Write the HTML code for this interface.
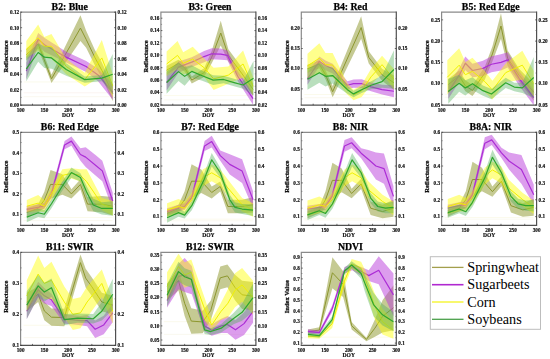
<!DOCTYPE html>
<html><head><meta charset="utf-8"><style>
html,body{margin:0;padding:0;background:#fff;width:550px;height:359px;overflow:hidden}
svg{display:block;filter:blur(0.35px)}
text{font-family:"Liberation Serif",serif;fill:#111}
.tk{font-size:5.2px;font-weight:bold;fill:#111;stroke:#111;stroke-width:0.18px}
.dy{font-size:5.6px;font-weight:bold;stroke:#111;stroke-width:0.18px}
.tt{font-size:9.8px;font-weight:bold;fill:#000;stroke:#000;stroke-width:0.25px}
.yl{font-size:6.5px;font-weight:bold;stroke:#111;stroke-width:0.28px}
.lg{font-size:14.2px;fill:#000}
</style></head><body>
<svg width="550" height="359" viewBox="0 0 550 359">
<g>
<clipPath id="c00"><rect x="20.6" y="12.2" width="95.0" height="93.0"/></clipPath>
<g clip-path="url(#c00)">
<line x1="23.6" x2="112.6" y1="81.95" y2="81.95" stroke="#f4f0c8" stroke-width="0.5" stroke-opacity="0.7"/>
<line x1="23.6" x2="112.6" y1="92.80" y2="92.80" stroke="#f4e0d8" stroke-width="0.5" stroke-opacity="0.7"/>
<line x1="23.6" x2="112.6" y1="96.68" y2="96.68" stroke="#f0ecd0" stroke-width="0.5" stroke-opacity="0.7"/>
<polygon points="26.30,49.01 38.17,39.33 51.48,74.59 80.45,15.30 86.15,30.80 94.70,49.40 101.82,62.58 112.75,85.83 112.75,101.33 101.82,78.08 94.70,64.90 86.15,47.85 80.45,40.88 51.48,83.11 38.17,48.63 26.30,60.64" fill="rgb(140,150,40)" fill-opacity="0.5"/>
<polyline points="26.30,54.82 38.17,43.98 51.48,78.85 80.45,28.09 86.15,39.33 94.70,57.15 101.82,70.33 112.75,93.58" fill="none" stroke="#8c962e" stroke-width="1.0" stroke-linejoin="round"/>
<polygon points="26.30,62.58 38.17,33.12 44.35,37.78 66.20,51.72 86.15,61.02 98.03,68.78 112.75,84.28 112.75,99.78 98.03,81.17 86.15,71.88 66.20,62.58 44.35,51.72 38.17,45.52 26.30,79.62" fill="rgb(185,60,220)" fill-opacity="0.5"/>
<polyline points="26.30,71.10 38.17,39.33 44.35,44.75 66.20,57.15 86.15,66.45 98.03,74.97 112.75,92.03" fill="none" stroke="#ac2ed6" stroke-width="1.2" stroke-linejoin="round"/>
<polygon points="26.30,40.88 38.17,24.60 44.35,37.00 51.48,33.90 66.20,58.70 84.72,72.65 101.82,40.10 112.75,74.20 112.75,97.45 101.82,75.75 84.72,86.60 66.20,74.20 51.48,58.70 44.35,55.60 38.17,50.95 26.30,57.93" fill="rgb(255,255,0)" fill-opacity="0.45"/>
<polyline points="26.30,49.40 38.17,37.78 44.35,46.30 51.48,46.30 66.20,66.45 84.72,79.62 101.82,57.93 112.75,85.83" fill="none" stroke="#f0f000" stroke-width="1.0" stroke-linejoin="round"/>
<polygon points="26.30,56.38 38.17,43.20 44.35,46.30 51.48,47.08 66.20,63.35 84.72,76.52 101.82,74.97 112.75,54.05 112.75,94.35 101.82,81.17 84.72,82.72 66.20,75.75 51.48,68.78 44.35,68.00 38.17,61.80 26.30,81.17" fill="rgb(80,175,90)" fill-opacity="0.4"/>
<polyline points="26.30,68.78 38.17,52.50 44.35,57.15 51.48,57.93 66.20,69.55 84.72,79.62 101.82,78.08 112.75,74.20" fill="none" stroke="#2ea62e" stroke-width="1.2" stroke-linejoin="round"/>
</g>
<path d="M20.6,105.2 V12.2 H115.6" fill="none" stroke="#8a8a8a" stroke-width="1.2"/>
<path d="M20.0,105.2 H115.6 V11.6" fill="none" stroke="#505050" stroke-width="1.2"/>
<line x1="32.48" x2="32.48" y1="105.2" y2="103.7" stroke="#333" stroke-width="0.7"/>
<line x1="44.35" x2="44.35" y1="105.2" y2="103.7" stroke="#333" stroke-width="0.7"/>
<line x1="56.23" x2="56.23" y1="105.2" y2="103.7" stroke="#333" stroke-width="0.7"/>
<line x1="68.10" x2="68.10" y1="105.2" y2="103.7" stroke="#333" stroke-width="0.7"/>
<line x1="79.97" x2="79.97" y1="105.2" y2="103.7" stroke="#333" stroke-width="0.7"/>
<line x1="91.85" x2="91.85" y1="105.2" y2="103.7" stroke="#333" stroke-width="0.7"/>
<line x1="103.72" x2="103.72" y1="105.2" y2="103.7" stroke="#333" stroke-width="0.7"/>
<text x="20.60" y="111.80" class="tk" text-anchor="middle">100</text>
<text x="44.35" y="111.80" class="tk" text-anchor="middle">150</text>
<text x="68.10" y="111.80" class="tk" text-anchor="middle">200</text>
<text x="91.85" y="111.80" class="tk" text-anchor="middle">250</text>
<text x="115.60" y="111.80" class="tk" text-anchor="middle">300</text>
<text x="68.10" y="117.20" class="dy" text-anchor="middle">DOY</text>
<line x1="20.6" x2="22.1" y1="105.20" y2="105.20" stroke="#333" stroke-width="0.7"/>
<line x1="115.6" x2="114.1" y1="105.20" y2="105.20" stroke="#333" stroke-width="0.7"/>
<text x="19.10" y="107.00" class="tk" text-anchor="end">0.00</text>
<text x="117.60" y="107.00" class="tk">0.00</text>
<line x1="20.6" x2="22.1" y1="89.70" y2="89.70" stroke="#333" stroke-width="0.7"/>
<line x1="115.6" x2="114.1" y1="89.70" y2="89.70" stroke="#333" stroke-width="0.7"/>
<text x="19.10" y="91.50" class="tk" text-anchor="end">0.02</text>
<text x="117.60" y="91.50" class="tk">0.02</text>
<line x1="20.6" x2="22.1" y1="74.20" y2="74.20" stroke="#333" stroke-width="0.7"/>
<line x1="115.6" x2="114.1" y1="74.20" y2="74.20" stroke="#333" stroke-width="0.7"/>
<text x="19.10" y="76.00" class="tk" text-anchor="end">0.04</text>
<text x="117.60" y="76.00" class="tk">0.04</text>
<line x1="20.6" x2="22.1" y1="58.70" y2="58.70" stroke="#333" stroke-width="0.7"/>
<line x1="115.6" x2="114.1" y1="58.70" y2="58.70" stroke="#333" stroke-width="0.7"/>
<text x="19.10" y="60.50" class="tk" text-anchor="end">0.06</text>
<text x="117.60" y="60.50" class="tk">0.06</text>
<line x1="20.6" x2="22.1" y1="43.20" y2="43.20" stroke="#333" stroke-width="0.7"/>
<line x1="115.6" x2="114.1" y1="43.20" y2="43.20" stroke="#333" stroke-width="0.7"/>
<text x="19.10" y="45.00" class="tk" text-anchor="end">0.08</text>
<text x="117.60" y="45.00" class="tk">0.08</text>
<line x1="20.6" x2="22.1" y1="27.70" y2="27.70" stroke="#333" stroke-width="0.7"/>
<line x1="115.6" x2="114.1" y1="27.70" y2="27.70" stroke="#333" stroke-width="0.7"/>
<text x="19.10" y="29.50" class="tk" text-anchor="end">0.10</text>
<text x="117.60" y="29.50" class="tk">0.10</text>
<line x1="20.6" x2="22.1" y1="12.20" y2="12.20" stroke="#333" stroke-width="0.7"/>
<line x1="115.6" x2="114.1" y1="12.20" y2="12.20" stroke="#333" stroke-width="0.7"/>
<text x="19.10" y="14.00" class="tk" text-anchor="end">0.12</text>
<text x="117.60" y="14.00" class="tk">0.12</text>
<line x1="20.6" x2="21.8" y1="97.45" y2="97.45" stroke="#555" stroke-width="0.5"/>
<line x1="115.6" x2="114.39999999999999" y1="97.45" y2="97.45" stroke="#555" stroke-width="0.5"/>
<line x1="20.6" x2="21.8" y1="81.95" y2="81.95" stroke="#555" stroke-width="0.5"/>
<line x1="115.6" x2="114.39999999999999" y1="81.95" y2="81.95" stroke="#555" stroke-width="0.5"/>
<line x1="20.6" x2="21.8" y1="66.45" y2="66.45" stroke="#555" stroke-width="0.5"/>
<line x1="115.6" x2="114.39999999999999" y1="66.45" y2="66.45" stroke="#555" stroke-width="0.5"/>
<line x1="20.6" x2="21.8" y1="50.95" y2="50.95" stroke="#555" stroke-width="0.5"/>
<line x1="115.6" x2="114.39999999999999" y1="50.95" y2="50.95" stroke="#555" stroke-width="0.5"/>
<line x1="20.6" x2="21.8" y1="35.45" y2="35.45" stroke="#555" stroke-width="0.5"/>
<line x1="115.6" x2="114.39999999999999" y1="35.45" y2="35.45" stroke="#555" stroke-width="0.5"/>
<line x1="20.6" x2="21.8" y1="19.95" y2="19.95" stroke="#555" stroke-width="0.5"/>
<line x1="115.6" x2="114.39999999999999" y1="19.95" y2="19.95" stroke="#555" stroke-width="0.5"/>
<text x="69.70" y="9.90" class="tt" text-anchor="middle">B2: Blue</text>
<text transform="translate(8.00,56.50) rotate(-90)" class="yl" text-anchor="middle">Reflectance</text>
</g>
<g>
<clipPath id="c10"><rect x="160.9" y="12.2" width="95.0" height="93.0"/></clipPath>
<g clip-path="url(#c10)">
<line x1="163.9" x2="252.9" y1="95.55" y2="95.55" stroke="#f4f0c8" stroke-width="0.5" stroke-opacity="0.7"/>
<line x1="163.9" x2="252.9" y1="99.88" y2="99.88" stroke="#f0ecd0" stroke-width="0.5" stroke-opacity="0.7"/>
<polygon points="166.60,65.85 178.47,59.66 184.65,63.99 191.78,76.61 204.12,68.32 211.73,51.00 220.75,20.68 228.35,49.14 242.12,67.70 253.05,83.17 253.05,95.55 242.12,80.08 228.35,61.52 220.75,45.43 211.73,63.37 204.12,76.98 191.78,83.54 184.65,71.42 178.47,67.08 166.60,74.51" fill="rgb(140,150,40)" fill-opacity="0.5"/>
<polyline points="166.60,70.18 178.47,63.37 184.65,67.70 191.78,80.08 204.12,72.65 211.73,57.18 220.75,33.05 228.35,55.33 242.12,73.89 253.05,89.36" fill="none" stroke="#8c962e" stroke-width="1.0" stroke-linejoin="round"/>
<polygon points="166.60,74.51 178.47,61.52 191.78,57.18 204.12,51.00 211.73,48.21 220.75,48.52 227.40,50.38 237.85,71.42 253.05,92.45 253.05,104.83 237.85,81.32 227.40,60.28 220.75,59.66 211.73,59.35 204.12,62.13 191.78,67.08 178.47,72.65 166.60,90.60" fill="rgb(185,60,220)" fill-opacity="0.5"/>
<polyline points="166.60,82.55 178.47,67.08 191.78,62.13 204.12,56.57 211.73,53.78 220.75,54.09 227.40,55.33 237.85,76.37 253.05,98.64" fill="none" stroke="#ac2ed6" stroke-width="1.2" stroke-linejoin="round"/>
<polygon points="166.60,51.62 177.53,41.10 183.22,52.23 192.73,46.67 204.12,58.42 213.62,67.70 228.35,66.47 243.07,50.38 253.05,76.98 253.05,95.55 243.07,77.60 228.35,83.79 213.62,89.98 204.12,76.98 192.73,71.42 183.22,74.51 177.53,69.56 166.60,76.37" fill="rgb(255,255,0)" fill-opacity="0.45"/>
<polyline points="166.60,63.99 177.53,55.33 183.22,63.37 192.73,59.04 204.12,67.70 213.62,78.84 228.35,75.13 243.07,63.99 253.05,86.27" fill="none" stroke="#f0f000" stroke-width="1.0" stroke-linejoin="round"/>
<polygon points="166.60,71.42 178.47,62.32 184.65,67.08 191.78,65.23 202.23,70.80 213.15,75.13 223.60,75.75 234.05,78.84 243.07,81.32 253.53,60.90 253.53,95.55 243.07,88.74 234.05,86.27 223.60,83.17 213.15,85.03 202.23,80.70 191.78,77.60 184.65,85.65 178.47,80.88 166.60,93.69" fill="rgb(80,175,90)" fill-opacity="0.4"/>
<polyline points="166.60,82.55 178.47,71.60 184.65,76.37 191.78,71.42 202.23,75.75 213.15,80.08 223.60,79.46 234.05,82.55 243.07,85.03 253.53,78.22" fill="none" stroke="#2ea62e" stroke-width="1.2" stroke-linejoin="round"/>
</g>
<path d="M160.9,105.2 V12.2 H255.9" fill="none" stroke="#8a8a8a" stroke-width="1.2"/>
<path d="M160.3,105.2 H255.9 V11.6" fill="none" stroke="#505050" stroke-width="1.2"/>
<line x1="172.78" x2="172.78" y1="105.2" y2="103.7" stroke="#333" stroke-width="0.7"/>
<line x1="184.65" x2="184.65" y1="105.2" y2="103.7" stroke="#333" stroke-width="0.7"/>
<line x1="196.53" x2="196.53" y1="105.2" y2="103.7" stroke="#333" stroke-width="0.7"/>
<line x1="208.40" x2="208.40" y1="105.2" y2="103.7" stroke="#333" stroke-width="0.7"/>
<line x1="220.28" x2="220.28" y1="105.2" y2="103.7" stroke="#333" stroke-width="0.7"/>
<line x1="232.15" x2="232.15" y1="105.2" y2="103.7" stroke="#333" stroke-width="0.7"/>
<line x1="244.03" x2="244.03" y1="105.2" y2="103.7" stroke="#333" stroke-width="0.7"/>
<text x="160.90" y="111.80" class="tk" text-anchor="middle">100</text>
<text x="184.65" y="111.80" class="tk" text-anchor="middle">150</text>
<text x="208.40" y="111.80" class="tk" text-anchor="middle">200</text>
<text x="232.15" y="111.80" class="tk" text-anchor="middle">250</text>
<text x="255.90" y="111.80" class="tk" text-anchor="middle">300</text>
<text x="208.40" y="117.20" class="dy" text-anchor="middle">DOY</text>
<line x1="160.9" x2="162.4" y1="104.83" y2="104.83" stroke="#333" stroke-width="0.7"/>
<line x1="255.9" x2="254.4" y1="104.83" y2="104.83" stroke="#333" stroke-width="0.7"/>
<text x="159.40" y="106.63" class="tk" text-anchor="end">0.02</text>
<text x="257.90" y="106.63" class="tk">0.02</text>
<line x1="160.9" x2="162.4" y1="92.45" y2="92.45" stroke="#333" stroke-width="0.7"/>
<line x1="255.9" x2="254.4" y1="92.45" y2="92.45" stroke="#333" stroke-width="0.7"/>
<text x="159.40" y="94.25" class="tk" text-anchor="end">0.04</text>
<text x="257.90" y="94.25" class="tk">0.04</text>
<line x1="160.9" x2="162.4" y1="80.08" y2="80.08" stroke="#333" stroke-width="0.7"/>
<line x1="255.9" x2="254.4" y1="80.08" y2="80.08" stroke="#333" stroke-width="0.7"/>
<text x="159.40" y="81.88" class="tk" text-anchor="end">0.06</text>
<text x="257.90" y="81.88" class="tk">0.06</text>
<line x1="160.9" x2="162.4" y1="67.70" y2="67.70" stroke="#333" stroke-width="0.7"/>
<line x1="255.9" x2="254.4" y1="67.70" y2="67.70" stroke="#333" stroke-width="0.7"/>
<text x="159.40" y="69.50" class="tk" text-anchor="end">0.08</text>
<text x="257.90" y="69.50" class="tk">0.08</text>
<line x1="160.9" x2="162.4" y1="55.33" y2="55.33" stroke="#333" stroke-width="0.7"/>
<line x1="255.9" x2="254.4" y1="55.33" y2="55.33" stroke="#333" stroke-width="0.7"/>
<text x="159.40" y="57.13" class="tk" text-anchor="end">0.10</text>
<text x="257.90" y="57.13" class="tk">0.10</text>
<line x1="160.9" x2="162.4" y1="42.95" y2="42.95" stroke="#333" stroke-width="0.7"/>
<line x1="255.9" x2="254.4" y1="42.95" y2="42.95" stroke="#333" stroke-width="0.7"/>
<text x="159.40" y="44.75" class="tk" text-anchor="end">0.12</text>
<text x="257.90" y="44.75" class="tk">0.12</text>
<line x1="160.9" x2="162.4" y1="30.58" y2="30.58" stroke="#333" stroke-width="0.7"/>
<line x1="255.9" x2="254.4" y1="30.58" y2="30.58" stroke="#333" stroke-width="0.7"/>
<text x="159.40" y="32.38" class="tk" text-anchor="end">0.14</text>
<text x="257.90" y="32.38" class="tk">0.14</text>
<line x1="160.9" x2="162.4" y1="18.20" y2="18.20" stroke="#333" stroke-width="0.7"/>
<line x1="255.9" x2="254.4" y1="18.20" y2="18.20" stroke="#333" stroke-width="0.7"/>
<text x="159.40" y="20.00" class="tk" text-anchor="end">0.16</text>
<text x="257.90" y="20.00" class="tk">0.16</text>
<line x1="160.9" x2="162.1" y1="98.64" y2="98.64" stroke="#555" stroke-width="0.5"/>
<line x1="255.9" x2="254.70000000000002" y1="98.64" y2="98.64" stroke="#555" stroke-width="0.5"/>
<line x1="160.9" x2="162.1" y1="86.27" y2="86.27" stroke="#555" stroke-width="0.5"/>
<line x1="255.9" x2="254.70000000000002" y1="86.27" y2="86.27" stroke="#555" stroke-width="0.5"/>
<line x1="160.9" x2="162.1" y1="73.89" y2="73.89" stroke="#555" stroke-width="0.5"/>
<line x1="255.9" x2="254.70000000000002" y1="73.89" y2="73.89" stroke="#555" stroke-width="0.5"/>
<line x1="160.9" x2="162.1" y1="61.52" y2="61.52" stroke="#555" stroke-width="0.5"/>
<line x1="255.9" x2="254.70000000000002" y1="61.52" y2="61.52" stroke="#555" stroke-width="0.5"/>
<line x1="160.9" x2="162.1" y1="49.14" y2="49.14" stroke="#555" stroke-width="0.5"/>
<line x1="255.9" x2="254.70000000000002" y1="49.14" y2="49.14" stroke="#555" stroke-width="0.5"/>
<line x1="160.9" x2="162.1" y1="36.76" y2="36.76" stroke="#555" stroke-width="0.5"/>
<line x1="255.9" x2="254.70000000000002" y1="36.76" y2="36.76" stroke="#555" stroke-width="0.5"/>
<line x1="160.9" x2="162.1" y1="24.39" y2="24.39" stroke="#555" stroke-width="0.5"/>
<line x1="255.9" x2="254.70000000000002" y1="24.39" y2="24.39" stroke="#555" stroke-width="0.5"/>
<text x="210.00" y="9.90" class="tt" text-anchor="middle">B3: Green</text>
<text transform="translate(148.30,56.50) rotate(-90)" class="yl" text-anchor="middle">Reflectance</text>
</g>
<g>
<clipPath id="c20"><rect x="301.3" y="12.2" width="95.0" height="93.0"/></clipPath>
<g clip-path="url(#c20)">
<line x1="304.3" x2="393.3" y1="94.51" y2="94.51" stroke="#f4f0c8" stroke-width="0.5" stroke-opacity="0.7"/>
<line x1="304.3" x2="393.3" y1="97.74" y2="97.74" stroke="#f0ecd0" stroke-width="0.5" stroke-opacity="0.7"/>
<polygon points="307.48,64.65 319.35,60.21 325.53,70.30 332.65,86.04 361.15,16.23 368.75,51.34 382.05,68.69 393.93,75.54 393.93,90.07 382.05,80.79 368.75,63.44 361.15,38.83 332.65,97.33 325.53,79.18 319.35,68.28 307.48,72.72" fill="rgb(140,150,40)" fill-opacity="0.5"/>
<polyline points="307.48,68.69 319.35,64.25 325.53,74.74 332.65,91.68 361.15,27.53 368.75,57.39 382.05,74.74 393.93,82.81" fill="none" stroke="#8c962e" stroke-width="1.0" stroke-linejoin="round"/>
<polygon points="307.48,72.72 319.35,56.58 325.53,60.62 332.65,63.84 347.38,81.19 353.55,79.58 361.62,79.18 371.12,82.40 382.05,84.82 393.93,85.23 393.93,97.33 382.05,94.51 371.12,91.28 361.62,88.05 353.55,87.65 347.38,89.26 332.65,73.53 325.53,70.30 319.35,66.27 307.48,84.82" fill="rgb(185,60,220)" fill-opacity="0.5"/>
<polyline points="307.48,78.77 319.35,61.42 325.53,65.46 332.65,68.69 347.38,85.23 353.55,83.61 361.62,83.61 371.12,86.84 382.05,89.67 393.93,91.28" fill="none" stroke="#ac2ed6" stroke-width="1.2" stroke-linejoin="round"/>
<polygon points="307.48,53.76 319.35,43.27 325.53,52.95 332.65,52.95 347.38,83.21 353.55,89.67 361.62,84.82 371.12,68.69 382.05,55.77 393.93,69.09 393.93,89.26 382.05,73.53 371.12,84.82 361.62,96.93 353.55,100.16 347.38,94.51 332.65,77.16 325.53,76.35 319.35,73.12 307.48,77.97" fill="rgb(255,255,0)" fill-opacity="0.45"/>
<polyline points="307.48,65.86 319.35,58.20 325.53,64.65 332.65,65.05 347.38,88.86 353.55,94.91 361.62,90.88 371.12,76.76 382.05,64.65 393.93,79.18" fill="none" stroke="#f0f000" stroke-width="1.0" stroke-linejoin="round"/>
<polygon points="307.48,68.69 319.35,62.63 325.53,66.27 332.65,67.48 347.38,85.63 353.55,90.68 361.62,86.44 371.12,81.19 382.05,75.54 393.93,50.13 393.93,88.86 382.05,87.65 371.12,89.26 361.62,92.89 353.55,97.13 347.38,93.70 332.65,83.61 325.53,86.44 319.35,82.81 307.48,89.67" fill="rgb(80,175,90)" fill-opacity="0.4"/>
<polyline points="307.48,79.18 319.35,72.72 325.53,76.35 332.65,75.54 347.38,89.67 353.55,93.90 361.62,89.67 371.12,85.23 382.05,81.60 393.93,69.49" fill="none" stroke="#2ea62e" stroke-width="1.2" stroke-linejoin="round"/>
</g>
<path d="M301.3,105.2 V12.2 H396.3" fill="none" stroke="#8a8a8a" stroke-width="1.2"/>
<path d="M300.7,105.2 H396.3 V11.6" fill="none" stroke="#505050" stroke-width="1.2"/>
<line x1="313.18" x2="313.18" y1="105.2" y2="103.7" stroke="#333" stroke-width="0.7"/>
<line x1="325.05" x2="325.05" y1="105.2" y2="103.7" stroke="#333" stroke-width="0.7"/>
<line x1="336.93" x2="336.93" y1="105.2" y2="103.7" stroke="#333" stroke-width="0.7"/>
<line x1="348.80" x2="348.80" y1="105.2" y2="103.7" stroke="#333" stroke-width="0.7"/>
<line x1="360.68" x2="360.68" y1="105.2" y2="103.7" stroke="#333" stroke-width="0.7"/>
<line x1="372.55" x2="372.55" y1="105.2" y2="103.7" stroke="#333" stroke-width="0.7"/>
<line x1="384.43" x2="384.43" y1="105.2" y2="103.7" stroke="#333" stroke-width="0.7"/>
<text x="301.30" y="111.80" class="tk" text-anchor="middle">100</text>
<text x="325.05" y="111.80" class="tk" text-anchor="middle">150</text>
<text x="348.80" y="111.80" class="tk" text-anchor="middle">200</text>
<text x="372.55" y="111.80" class="tk" text-anchor="middle">250</text>
<text x="396.30" y="111.80" class="tk" text-anchor="middle">300</text>
<text x="348.80" y="117.20" class="dy" text-anchor="middle">DOY</text>
<line x1="301.3" x2="302.8" y1="88.86" y2="88.86" stroke="#333" stroke-width="0.7"/>
<line x1="396.3" x2="394.8" y1="88.86" y2="88.86" stroke="#333" stroke-width="0.7"/>
<text x="299.80" y="90.66" class="tk" text-anchor="end">0.05</text>
<text x="398.30" y="90.66" class="tk">0.05</text>
<line x1="301.3" x2="302.8" y1="68.69" y2="68.69" stroke="#333" stroke-width="0.7"/>
<line x1="396.3" x2="394.8" y1="68.69" y2="68.69" stroke="#333" stroke-width="0.7"/>
<text x="299.80" y="70.49" class="tk" text-anchor="end">0.10</text>
<text x="398.30" y="70.49" class="tk">0.10</text>
<line x1="301.3" x2="302.8" y1="48.51" y2="48.51" stroke="#333" stroke-width="0.7"/>
<line x1="396.3" x2="394.8" y1="48.51" y2="48.51" stroke="#333" stroke-width="0.7"/>
<text x="299.80" y="50.31" class="tk" text-anchor="end">0.15</text>
<text x="398.30" y="50.31" class="tk">0.15</text>
<line x1="301.3" x2="302.8" y1="28.34" y2="28.34" stroke="#333" stroke-width="0.7"/>
<line x1="396.3" x2="394.8" y1="28.34" y2="28.34" stroke="#333" stroke-width="0.7"/>
<text x="299.80" y="30.14" class="tk" text-anchor="end">0.20</text>
<text x="398.30" y="30.14" class="tk">0.20</text>
<line x1="301.3" x2="302.5" y1="78.77" y2="78.77" stroke="#555" stroke-width="0.5"/>
<line x1="396.3" x2="395.1" y1="78.77" y2="78.77" stroke="#555" stroke-width="0.5"/>
<line x1="301.3" x2="302.5" y1="58.60" y2="58.60" stroke="#555" stroke-width="0.5"/>
<line x1="396.3" x2="395.1" y1="58.60" y2="58.60" stroke="#555" stroke-width="0.5"/>
<line x1="301.3" x2="302.5" y1="38.43" y2="38.43" stroke="#555" stroke-width="0.5"/>
<line x1="396.3" x2="395.1" y1="38.43" y2="38.43" stroke="#555" stroke-width="0.5"/>
<line x1="301.3" x2="302.5" y1="18.25" y2="18.25" stroke="#555" stroke-width="0.5"/>
<line x1="396.3" x2="395.1" y1="18.25" y2="18.25" stroke="#555" stroke-width="0.5"/>
<line x1="301.3" x2="302.5" y1="98.95" y2="98.95" stroke="#555" stroke-width="0.5"/>
<line x1="396.3" x2="395.1" y1="98.95" y2="98.95" stroke="#555" stroke-width="0.5"/>
<text x="350.40" y="9.90" class="tt" text-anchor="middle">B4: Red</text>
<text transform="translate(288.70,56.50) rotate(-90)" class="yl" text-anchor="middle">Reflectance</text>
</g>
<g>
<clipPath id="c30"><rect x="441.6" y="12.2" width="95.0" height="93.0"/></clipPath>
<g clip-path="url(#c30)">
<line x1="444.6" x2="533.6" y1="94.31" y2="94.31" stroke="#f4f0c8" stroke-width="0.5" stroke-opacity="0.7"/>
<line x1="444.6" x2="533.6" y1="97.29" y2="97.29" stroke="#f0ecd0" stroke-width="0.5" stroke-opacity="0.7"/>
<polygon points="448.25,78.99 459.18,70.48 465.35,80.27 472.48,84.95 484.83,66.66 492.43,46.23 500.98,13.26 507.62,50.49 519.02,68.78 533.75,83.67 533.75,100.69 519.02,81.55 507.62,65.80 500.98,38.79 492.43,61.55 484.83,79.42 472.48,96.01 465.35,91.33 459.18,81.55 448.25,90.05" fill="rgb(140,150,40)" fill-opacity="0.5"/>
<polyline points="448.25,84.52 459.18,76.02 465.35,85.80 472.48,90.48 484.83,73.04 492.43,53.89 500.98,26.03 507.62,58.15 519.02,75.16 533.75,92.18" fill="none" stroke="#8c962e" stroke-width="1.0" stroke-linejoin="round"/>
<polygon points="448.25,85.37 459.18,68.36 465.35,56.45 472.48,63.68 482.93,60.70 491.48,56.19 500.98,54.32 507.62,52.19 519.02,71.04 533.75,90.05 533.75,105.37 519.02,85.50 507.62,67.51 500.98,70.48 491.48,72.36 482.93,76.02 472.48,77.29 465.35,70.06 459.18,81.97 448.25,98.99" fill="rgb(185,60,220)" fill-opacity="0.5"/>
<polyline points="448.25,92.18 459.18,75.16 465.35,63.25 472.48,70.48 482.93,68.36 491.48,64.27 500.98,62.40 507.62,59.85 519.02,78.27 533.75,97.71" fill="none" stroke="#ac2ed6" stroke-width="1.2" stroke-linejoin="round"/>
<polygon points="447.30,60.27 459.18,48.15 465.35,61.98 472.48,57.72 484.83,70.91 492.43,80.69 505.73,63.25 522.35,50.70 533.75,70.91 533.75,96.44 522.35,79.63 505.73,81.97 492.43,99.41 484.83,92.18 472.48,84.95 465.35,87.50 459.18,82.18 447.30,94.31" fill="rgb(255,255,0)" fill-opacity="0.45"/>
<polyline points="447.30,77.29 459.18,65.17 465.35,74.74 472.48,71.34 484.83,81.55 492.43,90.05 505.73,72.61 522.35,65.17 533.75,83.67" fill="none" stroke="#f0f000" stroke-width="1.0" stroke-linejoin="round"/>
<polygon points="448.25,79.12 459.18,74.70 465.35,80.27 472.48,77.29 482.93,85.54 491.48,88.95 505.73,77.72 514.27,82.82 522.35,82.82 533.75,57.04 533.75,97.88 522.35,93.03 514.27,91.33 505.73,87.93 491.48,99.16 482.93,95.76 472.48,90.05 465.35,95.59 459.18,91.71 448.25,103.80" fill="rgb(80,175,90)" fill-opacity="0.4"/>
<polyline points="448.25,91.46 459.18,83.21 465.35,87.93 472.48,83.67 482.93,90.65 491.48,94.05 505.73,82.82 514.27,87.08 522.35,87.93 533.75,77.46" fill="none" stroke="#2ea62e" stroke-width="1.2" stroke-linejoin="round"/>
</g>
<path d="M441.6,105.2 V12.2 H536.6" fill="none" stroke="#8a8a8a" stroke-width="1.2"/>
<path d="M441.0,105.2 H536.6 V11.6" fill="none" stroke="#505050" stroke-width="1.2"/>
<line x1="453.48" x2="453.48" y1="105.2" y2="103.7" stroke="#333" stroke-width="0.7"/>
<line x1="465.35" x2="465.35" y1="105.2" y2="103.7" stroke="#333" stroke-width="0.7"/>
<line x1="477.23" x2="477.23" y1="105.2" y2="103.7" stroke="#333" stroke-width="0.7"/>
<line x1="489.10" x2="489.10" y1="105.2" y2="103.7" stroke="#333" stroke-width="0.7"/>
<line x1="500.98" x2="500.98" y1="105.2" y2="103.7" stroke="#333" stroke-width="0.7"/>
<line x1="512.85" x2="512.85" y1="105.2" y2="103.7" stroke="#333" stroke-width="0.7"/>
<line x1="524.73" x2="524.73" y1="105.2" y2="103.7" stroke="#333" stroke-width="0.7"/>
<text x="441.60" y="111.80" class="tk" text-anchor="middle">100</text>
<text x="465.35" y="111.80" class="tk" text-anchor="middle">150</text>
<text x="489.10" y="111.80" class="tk" text-anchor="middle">200</text>
<text x="512.85" y="111.80" class="tk" text-anchor="middle">250</text>
<text x="536.60" y="111.80" class="tk" text-anchor="middle">300</text>
<text x="489.10" y="117.20" class="dy" text-anchor="middle">DOY</text>
<line x1="441.6" x2="443.1" y1="104.94" y2="104.94" stroke="#333" stroke-width="0.7"/>
<line x1="536.6" x2="535.1" y1="104.94" y2="104.94" stroke="#333" stroke-width="0.7"/>
<text x="440.10" y="106.74" class="tk" text-anchor="end">0.05</text>
<text x="538.60" y="106.74" class="tk">0.05</text>
<line x1="441.6" x2="443.1" y1="83.67" y2="83.67" stroke="#333" stroke-width="0.7"/>
<line x1="536.6" x2="535.1" y1="83.67" y2="83.67" stroke="#333" stroke-width="0.7"/>
<text x="440.10" y="85.47" class="tk" text-anchor="end">0.10</text>
<text x="538.60" y="85.47" class="tk">0.10</text>
<line x1="441.6" x2="443.1" y1="62.40" y2="62.40" stroke="#333" stroke-width="0.7"/>
<line x1="536.6" x2="535.1" y1="62.40" y2="62.40" stroke="#333" stroke-width="0.7"/>
<text x="440.10" y="64.20" class="tk" text-anchor="end">0.15</text>
<text x="538.60" y="64.20" class="tk">0.15</text>
<line x1="441.6" x2="443.1" y1="41.13" y2="41.13" stroke="#333" stroke-width="0.7"/>
<line x1="536.6" x2="535.1" y1="41.13" y2="41.13" stroke="#333" stroke-width="0.7"/>
<text x="440.10" y="42.93" class="tk" text-anchor="end">0.20</text>
<text x="538.60" y="42.93" class="tk">0.20</text>
<line x1="441.6" x2="443.1" y1="19.86" y2="19.86" stroke="#333" stroke-width="0.7"/>
<line x1="536.6" x2="535.1" y1="19.86" y2="19.86" stroke="#333" stroke-width="0.7"/>
<text x="440.10" y="21.66" class="tk" text-anchor="end">0.25</text>
<text x="538.60" y="21.66" class="tk">0.25</text>
<line x1="441.6" x2="442.8" y1="94.31" y2="94.31" stroke="#555" stroke-width="0.5"/>
<line x1="536.6" x2="535.4" y1="94.31" y2="94.31" stroke="#555" stroke-width="0.5"/>
<line x1="441.6" x2="442.8" y1="73.04" y2="73.04" stroke="#555" stroke-width="0.5"/>
<line x1="536.6" x2="535.4" y1="73.04" y2="73.04" stroke="#555" stroke-width="0.5"/>
<line x1="441.6" x2="442.8" y1="51.77" y2="51.77" stroke="#555" stroke-width="0.5"/>
<line x1="536.6" x2="535.4" y1="51.77" y2="51.77" stroke="#555" stroke-width="0.5"/>
<line x1="441.6" x2="442.8" y1="30.49" y2="30.49" stroke="#555" stroke-width="0.5"/>
<line x1="536.6" x2="535.4" y1="30.49" y2="30.49" stroke="#555" stroke-width="0.5"/>
<text x="490.70" y="9.90" class="tt" text-anchor="middle">B5: Red Edge</text>
<text transform="translate(429.00,56.50) rotate(-90)" class="yl" text-anchor="middle">Reflectance</text>
</g>
<g>
<clipPath id="c01"><rect x="20.6" y="132.3" width="95.0" height="93.0"/></clipPath>
<g clip-path="url(#c01)">
<line x1="23.6" x2="112.6" y1="217.50" y2="217.50" stroke="#f4f0c8" stroke-width="0.5" stroke-opacity="0.7"/>
<line x1="23.6" x2="112.6" y1="220.58" y2="220.58" stroke="#f0ecd0" stroke-width="0.5" stroke-opacity="0.7"/>
<polygon points="26.78,208.26 38.17,204.15 44.35,191.84 50.53,170.07 62.40,174.18 71.43,189.17 80.45,179.31 87.57,196.97 101.82,195.94 112.75,196.97 112.75,215.45 101.82,212.37 87.57,211.34 80.45,189.58 71.43,198.61 62.40,194.71 50.53,198.82 44.35,208.26 38.17,212.37 26.78,216.47" fill="rgb(140,150,40)" fill-opacity="0.5"/>
<polyline points="26.78,212.37 38.17,208.26 44.35,200.05 50.53,184.45 62.40,184.45 71.43,193.89 80.45,184.45 87.57,204.15 101.82,204.15 112.75,206.21" fill="none" stroke="#8c962e" stroke-width="1.0" stroke-linejoin="round"/>
<polygon points="26.78,206.21 38.17,204.15 44.35,202.92 51.48,189.78 64.59,140.92 71.43,136.61 80.45,148.31 85.68,147.29 96.12,155.50 102.30,160.63 112.75,192.86 112.75,209.29 102.30,181.16 96.12,176.03 85.68,167.00 80.45,160.63 71.43,145.64 64.59,149.13 51.48,198.00 44.35,209.08 38.17,210.31 26.78,212.37" fill="rgb(185,60,220)" fill-opacity="0.5"/>
<polyline points="26.78,209.29 38.17,207.23 44.35,206.00 51.48,193.89 64.59,145.03 71.43,141.13 80.45,154.47 85.68,157.14 96.12,165.76 102.30,170.90 112.75,201.07" fill="none" stroke="#ac2ed6" stroke-width="1.2" stroke-linejoin="round"/>
<polygon points="26.78,200.05 38.17,194.92 44.35,200.05 51.48,187.73 62.40,169.25 71.43,168.23 80.45,169.25 86.62,169.25 101.82,198.00 112.75,201.07 112.75,215.45 101.82,210.31 86.62,193.89 80.45,181.57 71.43,178.49 62.40,181.57 51.48,200.05 44.35,212.37 38.17,211.34 26.78,212.37" fill="rgb(255,255,0)" fill-opacity="0.45"/>
<polyline points="26.78,206.21 38.17,203.13 44.35,206.21 51.48,193.89 62.40,175.41 71.43,173.36 80.45,175.41 86.62,181.57 101.82,204.15 112.75,208.26" fill="none" stroke="#f0f000" stroke-width="1.0" stroke-linejoin="round"/>
<polygon points="26.78,211.96 38.17,208.67 44.35,210.11 51.48,199.23 61.93,182.19 71.43,167.41 80.45,173.36 86.62,185.88 93.28,198.82 101.82,202.31 112.75,201.28 112.75,215.65 101.82,214.62 93.28,211.13 86.62,198.20 80.45,181.57 71.43,177.67 61.93,191.22 51.48,208.26 44.35,218.32 38.17,216.88 26.78,222.22" fill="rgb(80,175,90)" fill-opacity="0.4"/>
<polyline points="26.78,217.09 38.17,212.78 44.35,214.21 51.48,203.74 61.93,186.70 71.43,172.54 80.45,177.47 86.62,192.04 93.28,204.98 101.82,208.47 112.75,208.47" fill="none" stroke="#2ea62e" stroke-width="1.2" stroke-linejoin="round"/>
</g>
<path d="M20.6,225.3 V132.3 H115.6" fill="none" stroke="#8a8a8a" stroke-width="1.2"/>
<path d="M20.0,225.3 H115.6 V131.70000000000002" fill="none" stroke="#505050" stroke-width="1.2"/>
<line x1="32.48" x2="32.48" y1="225.3" y2="223.8" stroke="#333" stroke-width="0.7"/>
<line x1="44.35" x2="44.35" y1="225.3" y2="223.8" stroke="#333" stroke-width="0.7"/>
<line x1="56.23" x2="56.23" y1="225.3" y2="223.8" stroke="#333" stroke-width="0.7"/>
<line x1="68.10" x2="68.10" y1="225.3" y2="223.8" stroke="#333" stroke-width="0.7"/>
<line x1="79.97" x2="79.97" y1="225.3" y2="223.8" stroke="#333" stroke-width="0.7"/>
<line x1="91.85" x2="91.85" y1="225.3" y2="223.8" stroke="#333" stroke-width="0.7"/>
<line x1="103.72" x2="103.72" y1="225.3" y2="223.8" stroke="#333" stroke-width="0.7"/>
<text x="20.60" y="231.90" class="tk" text-anchor="middle">100</text>
<text x="44.35" y="231.90" class="tk" text-anchor="middle">150</text>
<text x="68.10" y="231.90" class="tk" text-anchor="middle">200</text>
<text x="91.85" y="231.90" class="tk" text-anchor="middle">250</text>
<text x="115.60" y="231.90" class="tk" text-anchor="middle">300</text>
<text x="68.10" y="237.30" class="dy" text-anchor="middle">DOY</text>
<line x1="20.6" x2="22.1" y1="214.42" y2="214.42" stroke="#333" stroke-width="0.7"/>
<line x1="115.6" x2="114.1" y1="214.42" y2="214.42" stroke="#333" stroke-width="0.7"/>
<text x="19.10" y="216.22" class="tk" text-anchor="end">0.1</text>
<text x="117.60" y="216.22" class="tk">0.1</text>
<line x1="20.6" x2="22.1" y1="193.89" y2="193.89" stroke="#333" stroke-width="0.7"/>
<line x1="115.6" x2="114.1" y1="193.89" y2="193.89" stroke="#333" stroke-width="0.7"/>
<text x="19.10" y="195.69" class="tk" text-anchor="end">0.2</text>
<text x="117.60" y="195.69" class="tk">0.2</text>
<line x1="20.6" x2="22.1" y1="173.36" y2="173.36" stroke="#333" stroke-width="0.7"/>
<line x1="115.6" x2="114.1" y1="173.36" y2="173.36" stroke="#333" stroke-width="0.7"/>
<text x="19.10" y="175.16" class="tk" text-anchor="end">0.3</text>
<text x="117.60" y="175.16" class="tk">0.3</text>
<line x1="20.6" x2="22.1" y1="152.83" y2="152.83" stroke="#333" stroke-width="0.7"/>
<line x1="115.6" x2="114.1" y1="152.83" y2="152.83" stroke="#333" stroke-width="0.7"/>
<text x="19.10" y="154.63" class="tk" text-anchor="end">0.4</text>
<text x="117.60" y="154.63" class="tk">0.4</text>
<line x1="20.6" x2="22.1" y1="132.30" y2="132.30" stroke="#333" stroke-width="0.7"/>
<line x1="115.6" x2="114.1" y1="132.30" y2="132.30" stroke="#333" stroke-width="0.7"/>
<text x="19.10" y="134.10" class="tk" text-anchor="end">0.5</text>
<text x="117.60" y="134.10" class="tk">0.5</text>
<line x1="20.6" x2="21.8" y1="204.15" y2="204.15" stroke="#555" stroke-width="0.5"/>
<line x1="115.6" x2="114.39999999999999" y1="204.15" y2="204.15" stroke="#555" stroke-width="0.5"/>
<line x1="20.6" x2="21.8" y1="183.62" y2="183.62" stroke="#555" stroke-width="0.5"/>
<line x1="115.6" x2="114.39999999999999" y1="183.62" y2="183.62" stroke="#555" stroke-width="0.5"/>
<line x1="20.6" x2="21.8" y1="163.09" y2="163.09" stroke="#555" stroke-width="0.5"/>
<line x1="115.6" x2="114.39999999999999" y1="163.09" y2="163.09" stroke="#555" stroke-width="0.5"/>
<line x1="20.6" x2="21.8" y1="142.56" y2="142.56" stroke="#555" stroke-width="0.5"/>
<line x1="115.6" x2="114.39999999999999" y1="142.56" y2="142.56" stroke="#555" stroke-width="0.5"/>
<text x="69.70" y="130.00" class="tt" text-anchor="middle">B6: Red Edge</text>
<text transform="translate(8.00,176.60) rotate(-90)" class="yl" text-anchor="middle">Reflectance</text>
</g>
<g>
<clipPath id="c11"><rect x="160.9" y="132.3" width="95.0" height="93.0"/></clipPath>
<g clip-path="url(#c11)">
<line x1="163.9" x2="252.9" y1="219.16" y2="219.16" stroke="#f4f0c8" stroke-width="0.5" stroke-opacity="0.7"/>
<line x1="163.9" x2="252.9" y1="220.85" y2="220.85" stroke="#f0ecd0" stroke-width="0.5" stroke-opacity="0.7"/>
<polygon points="167.08,209.88 178.47,204.82 184.65,191.33 191.59,164.35 201.28,169.41 211.73,186.61 220.28,181.38 227.88,199.76 242.12,199.76 253.05,197.23 253.05,212.41 242.12,213.26 227.88,213.26 220.28,191.50 211.73,198.42 201.28,193.02 191.59,198.08 184.65,208.20 178.47,211.57 167.08,216.63" fill="rgb(140,150,40)" fill-opacity="0.5"/>
<polyline points="167.08,213.26 178.47,208.20 184.65,199.76 191.59,181.21 201.28,181.21 211.73,192.51 220.28,186.44 227.88,206.51 242.12,206.51 253.05,204.82" fill="none" stroke="#8c962e" stroke-width="1.0" stroke-linejoin="round"/>
<polygon points="167.08,208.20 178.47,204.82 184.65,203.14 191.78,194.37 204.60,140.90 211.73,135.67 220.28,150.52 229.78,154.23 242.12,159.29 253.05,191.33 253.05,208.20 242.12,182.90 229.78,174.47 220.28,160.64 211.73,147.48 204.60,151.02 191.78,201.11 184.65,209.88 178.47,211.57 167.08,214.94" fill="rgb(185,60,220)" fill-opacity="0.5"/>
<polyline points="167.08,211.57 178.47,208.20 184.65,206.51 191.78,197.74 204.60,145.96 211.73,141.58 220.28,155.58 229.78,164.35 242.12,171.09 253.05,199.76" fill="none" stroke="#ac2ed6" stroke-width="1.2" stroke-linejoin="round"/>
<polygon points="167.08,203.14 178.47,198.92 184.65,201.45 191.78,193.02 202.70,169.41 211.73,164.35 220.28,169.41 227.88,179.53 242.12,198.08 253.05,203.14 253.05,216.63 242.12,211.57 227.88,196.39 220.28,186.27 211.73,181.21 202.70,186.27 191.78,206.51 184.65,214.94 178.47,214.10 167.08,216.63" fill="rgb(255,255,0)" fill-opacity="0.45"/>
<polyline points="167.08,209.88 178.47,206.51 184.65,208.20 191.78,199.76 202.70,177.84 211.73,172.78 220.28,177.84 227.88,187.96 242.12,204.82 253.05,209.88" fill="none" stroke="#f0f000" stroke-width="1.0" stroke-linejoin="round"/>
<polygon points="167.08,212.75 178.47,208.37 184.65,211.74 191.78,201.11 204.12,173.62 211.73,153.05 220.28,167.72 229.78,194.70 235.00,202.29 242.12,203.98 253.05,204.15 253.05,215.96 242.12,214.10 235.00,212.41 229.78,204.82 220.28,177.84 211.73,166.54 204.12,185.43 191.78,210.22 184.65,218.49 178.47,216.80 167.08,222.87" fill="rgb(80,175,90)" fill-opacity="0.4"/>
<polyline points="167.08,217.81 178.47,212.58 184.65,215.11 191.78,205.67 204.12,179.53 211.73,159.79 220.28,172.78 229.78,199.76 235.00,207.35 242.12,209.04 253.05,210.05" fill="none" stroke="#2ea62e" stroke-width="1.2" stroke-linejoin="round"/>
</g>
<path d="M160.9,225.3 V132.3 H255.9" fill="none" stroke="#8a8a8a" stroke-width="1.2"/>
<path d="M160.3,225.3 H255.9 V131.70000000000002" fill="none" stroke="#505050" stroke-width="1.2"/>
<line x1="172.78" x2="172.78" y1="225.3" y2="223.8" stroke="#333" stroke-width="0.7"/>
<line x1="184.65" x2="184.65" y1="225.3" y2="223.8" stroke="#333" stroke-width="0.7"/>
<line x1="196.53" x2="196.53" y1="225.3" y2="223.8" stroke="#333" stroke-width="0.7"/>
<line x1="208.40" x2="208.40" y1="225.3" y2="223.8" stroke="#333" stroke-width="0.7"/>
<line x1="220.28" x2="220.28" y1="225.3" y2="223.8" stroke="#333" stroke-width="0.7"/>
<line x1="232.15" x2="232.15" y1="225.3" y2="223.8" stroke="#333" stroke-width="0.7"/>
<line x1="244.03" x2="244.03" y1="225.3" y2="223.8" stroke="#333" stroke-width="0.7"/>
<text x="160.90" y="231.90" class="tk" text-anchor="middle">100</text>
<text x="184.65" y="231.90" class="tk" text-anchor="middle">150</text>
<text x="208.40" y="231.90" class="tk" text-anchor="middle">200</text>
<text x="232.15" y="231.90" class="tk" text-anchor="middle">250</text>
<text x="255.90" y="231.90" class="tk" text-anchor="middle">300</text>
<text x="208.40" y="237.30" class="dy" text-anchor="middle">DOY</text>
<line x1="160.9" x2="162.4" y1="216.63" y2="216.63" stroke="#333" stroke-width="0.7"/>
<line x1="255.9" x2="254.4" y1="216.63" y2="216.63" stroke="#333" stroke-width="0.7"/>
<text x="159.40" y="218.43" class="tk" text-anchor="end">0.1</text>
<text x="257.90" y="218.43" class="tk">0.1</text>
<line x1="160.9" x2="162.4" y1="199.76" y2="199.76" stroke="#333" stroke-width="0.7"/>
<line x1="255.9" x2="254.4" y1="199.76" y2="199.76" stroke="#333" stroke-width="0.7"/>
<text x="159.40" y="201.56" class="tk" text-anchor="end">0.2</text>
<text x="257.90" y="201.56" class="tk">0.2</text>
<line x1="160.9" x2="162.4" y1="182.90" y2="182.90" stroke="#333" stroke-width="0.7"/>
<line x1="255.9" x2="254.4" y1="182.90" y2="182.90" stroke="#333" stroke-width="0.7"/>
<text x="159.40" y="184.70" class="tk" text-anchor="end">0.3</text>
<text x="257.90" y="184.70" class="tk">0.3</text>
<line x1="160.9" x2="162.4" y1="166.03" y2="166.03" stroke="#333" stroke-width="0.7"/>
<line x1="255.9" x2="254.4" y1="166.03" y2="166.03" stroke="#333" stroke-width="0.7"/>
<text x="159.40" y="167.83" class="tk" text-anchor="end">0.4</text>
<text x="257.90" y="167.83" class="tk">0.4</text>
<line x1="160.9" x2="162.4" y1="149.17" y2="149.17" stroke="#333" stroke-width="0.7"/>
<line x1="255.9" x2="254.4" y1="149.17" y2="149.17" stroke="#333" stroke-width="0.7"/>
<text x="159.40" y="150.97" class="tk" text-anchor="end">0.5</text>
<text x="257.90" y="150.97" class="tk">0.5</text>
<line x1="160.9" x2="162.4" y1="132.30" y2="132.30" stroke="#333" stroke-width="0.7"/>
<line x1="255.9" x2="254.4" y1="132.30" y2="132.30" stroke="#333" stroke-width="0.7"/>
<text x="159.40" y="134.10" class="tk" text-anchor="end">0.6</text>
<text x="257.90" y="134.10" class="tk">0.6</text>
<line x1="160.9" x2="162.1" y1="208.20" y2="208.20" stroke="#555" stroke-width="0.5"/>
<line x1="255.9" x2="254.70000000000002" y1="208.20" y2="208.20" stroke="#555" stroke-width="0.5"/>
<line x1="160.9" x2="162.1" y1="191.33" y2="191.33" stroke="#555" stroke-width="0.5"/>
<line x1="255.9" x2="254.70000000000002" y1="191.33" y2="191.33" stroke="#555" stroke-width="0.5"/>
<line x1="160.9" x2="162.1" y1="174.47" y2="174.47" stroke="#555" stroke-width="0.5"/>
<line x1="255.9" x2="254.70000000000002" y1="174.47" y2="174.47" stroke="#555" stroke-width="0.5"/>
<line x1="160.9" x2="162.1" y1="157.60" y2="157.60" stroke="#555" stroke-width="0.5"/>
<line x1="255.9" x2="254.70000000000002" y1="157.60" y2="157.60" stroke="#555" stroke-width="0.5"/>
<line x1="160.9" x2="162.1" y1="140.73" y2="140.73" stroke="#555" stroke-width="0.5"/>
<line x1="255.9" x2="254.70000000000002" y1="140.73" y2="140.73" stroke="#555" stroke-width="0.5"/>
<text x="210.00" y="130.00" class="tt" text-anchor="middle">B7: Red Edge</text>
<text transform="translate(148.30,176.60) rotate(-90)" class="yl" text-anchor="middle">Reflectance</text>
</g>
<g>
<clipPath id="c21"><rect x="301.3" y="132.3" width="95.0" height="93.0"/></clipPath>
<g clip-path="url(#c21)">
<line x1="304.3" x2="393.3" y1="218.32" y2="218.32" stroke="#f4f0c8" stroke-width="0.5" stroke-opacity="0.7"/>
<line x1="304.3" x2="393.3" y1="220.00" y2="220.00" stroke="#f0ecd0" stroke-width="0.5" stroke-opacity="0.7"/>
<polygon points="307.48,211.57 319.35,206.51 325.53,191.33 332.41,162.66 341.68,168.56 351.65,188.80 361.15,178.85 370.65,201.45 382.52,204.82 393.45,199.76 393.45,216.63 382.52,218.32 370.65,214.94 361.15,188.97 351.65,198.25 341.68,192.17 332.41,198.08 325.53,208.20 319.35,213.26 307.48,218.32" fill="rgb(140,150,40)" fill-opacity="0.5"/>
<polyline points="307.48,214.94 319.35,209.88 325.53,199.76 332.41,180.37 341.68,180.37 351.65,193.52 361.15,183.91 370.65,208.20 382.52,211.57 393.45,208.20" fill="none" stroke="#8c962e" stroke-width="1.0" stroke-linejoin="round"/>
<polygon points="307.48,205.67 319.35,203.98 325.53,203.14 332.18,192.68 344.53,140.06 351.65,137.19 361.15,148.15 368.27,150.01 375.88,152.54 383.95,153.38 393.45,186.27 393.45,206.51 383.95,183.74 375.88,179.53 368.27,168.56 361.15,158.27 351.65,148.32 344.53,151.86 332.18,199.43 325.53,209.88 319.35,210.73 307.48,212.41" fill="rgb(185,60,220)" fill-opacity="0.5"/>
<polyline points="307.48,209.04 319.35,207.35 325.53,206.51 332.18,196.05 344.53,145.96 351.65,142.76 361.15,153.21 368.27,159.29 375.88,166.03 383.95,168.56 393.45,196.39" fill="none" stroke="#ac2ed6" stroke-width="1.2" stroke-linejoin="round"/>
<polygon points="307.48,200.61 319.35,196.39 325.53,199.76 332.18,193.02 344.53,169.41 352.12,164.35 361.15,169.41 368.27,181.21 382.52,194.70 393.45,201.45 393.45,214.94 382.52,208.20 368.27,198.08 361.15,186.27 352.12,181.21 344.53,186.27 332.18,206.51 325.53,213.26 319.35,213.26 307.48,215.79" fill="rgb(255,255,0)" fill-opacity="0.45"/>
<polyline points="307.48,208.20 319.35,204.82 325.53,206.51 332.18,199.76 344.53,177.84 352.12,172.78 361.15,177.84 368.27,189.64 382.52,201.45 393.45,208.20" fill="none" stroke="#f0f000" stroke-width="1.0" stroke-linejoin="round"/>
<polygon points="307.48,209.88 319.35,206.51 325.53,209.21 332.41,199.26 344.53,171.94 352.12,153.05 361.15,167.72 370.65,193.02 377.78,201.45 385.38,203.14 393.45,201.45 393.45,213.26 385.38,213.26 377.78,211.57 370.65,203.14 361.15,177.84 352.12,166.54 344.53,183.74 332.41,208.70 325.53,217.64 319.35,214.94 307.48,220.00" fill="rgb(80,175,90)" fill-opacity="0.4"/>
<polyline points="307.48,214.94 319.35,210.73 325.53,213.43 332.41,203.98 344.53,177.84 352.12,159.79 361.15,172.78 370.65,198.08 377.78,206.51 385.38,208.20 393.45,207.35" fill="none" stroke="#2ea62e" stroke-width="1.2" stroke-linejoin="round"/>
</g>
<path d="M301.3,225.3 V132.3 H396.3" fill="none" stroke="#8a8a8a" stroke-width="1.2"/>
<path d="M300.7,225.3 H396.3 V131.70000000000002" fill="none" stroke="#505050" stroke-width="1.2"/>
<line x1="313.18" x2="313.18" y1="225.3" y2="223.8" stroke="#333" stroke-width="0.7"/>
<line x1="325.05" x2="325.05" y1="225.3" y2="223.8" stroke="#333" stroke-width="0.7"/>
<line x1="336.93" x2="336.93" y1="225.3" y2="223.8" stroke="#333" stroke-width="0.7"/>
<line x1="348.80" x2="348.80" y1="225.3" y2="223.8" stroke="#333" stroke-width="0.7"/>
<line x1="360.68" x2="360.68" y1="225.3" y2="223.8" stroke="#333" stroke-width="0.7"/>
<line x1="372.55" x2="372.55" y1="225.3" y2="223.8" stroke="#333" stroke-width="0.7"/>
<line x1="384.43" x2="384.43" y1="225.3" y2="223.8" stroke="#333" stroke-width="0.7"/>
<text x="301.30" y="231.90" class="tk" text-anchor="middle">100</text>
<text x="325.05" y="231.90" class="tk" text-anchor="middle">150</text>
<text x="348.80" y="231.90" class="tk" text-anchor="middle">200</text>
<text x="372.55" y="231.90" class="tk" text-anchor="middle">250</text>
<text x="396.30" y="231.90" class="tk" text-anchor="middle">300</text>
<text x="348.80" y="237.30" class="dy" text-anchor="middle">DOY</text>
<line x1="301.3" x2="302.8" y1="216.63" y2="216.63" stroke="#333" stroke-width="0.7"/>
<line x1="396.3" x2="394.8" y1="216.63" y2="216.63" stroke="#333" stroke-width="0.7"/>
<text x="299.80" y="218.43" class="tk" text-anchor="end">0.1</text>
<text x="398.30" y="218.43" class="tk">0.1</text>
<line x1="301.3" x2="302.8" y1="199.76" y2="199.76" stroke="#333" stroke-width="0.7"/>
<line x1="396.3" x2="394.8" y1="199.76" y2="199.76" stroke="#333" stroke-width="0.7"/>
<text x="299.80" y="201.56" class="tk" text-anchor="end">0.2</text>
<text x="398.30" y="201.56" class="tk">0.2</text>
<line x1="301.3" x2="302.8" y1="182.90" y2="182.90" stroke="#333" stroke-width="0.7"/>
<line x1="396.3" x2="394.8" y1="182.90" y2="182.90" stroke="#333" stroke-width="0.7"/>
<text x="299.80" y="184.70" class="tk" text-anchor="end">0.3</text>
<text x="398.30" y="184.70" class="tk">0.3</text>
<line x1="301.3" x2="302.8" y1="166.03" y2="166.03" stroke="#333" stroke-width="0.7"/>
<line x1="396.3" x2="394.8" y1="166.03" y2="166.03" stroke="#333" stroke-width="0.7"/>
<text x="299.80" y="167.83" class="tk" text-anchor="end">0.4</text>
<text x="398.30" y="167.83" class="tk">0.4</text>
<line x1="301.3" x2="302.8" y1="149.17" y2="149.17" stroke="#333" stroke-width="0.7"/>
<line x1="396.3" x2="394.8" y1="149.17" y2="149.17" stroke="#333" stroke-width="0.7"/>
<text x="299.80" y="150.97" class="tk" text-anchor="end">0.5</text>
<text x="398.30" y="150.97" class="tk">0.5</text>
<line x1="301.3" x2="302.8" y1="132.30" y2="132.30" stroke="#333" stroke-width="0.7"/>
<line x1="396.3" x2="394.8" y1="132.30" y2="132.30" stroke="#333" stroke-width="0.7"/>
<text x="299.80" y="134.10" class="tk" text-anchor="end">0.6</text>
<text x="398.30" y="134.10" class="tk">0.6</text>
<line x1="301.3" x2="302.5" y1="208.20" y2="208.20" stroke="#555" stroke-width="0.5"/>
<line x1="396.3" x2="395.1" y1="208.20" y2="208.20" stroke="#555" stroke-width="0.5"/>
<line x1="301.3" x2="302.5" y1="191.33" y2="191.33" stroke="#555" stroke-width="0.5"/>
<line x1="396.3" x2="395.1" y1="191.33" y2="191.33" stroke="#555" stroke-width="0.5"/>
<line x1="301.3" x2="302.5" y1="174.47" y2="174.47" stroke="#555" stroke-width="0.5"/>
<line x1="396.3" x2="395.1" y1="174.47" y2="174.47" stroke="#555" stroke-width="0.5"/>
<line x1="301.3" x2="302.5" y1="157.60" y2="157.60" stroke="#555" stroke-width="0.5"/>
<line x1="396.3" x2="395.1" y1="157.60" y2="157.60" stroke="#555" stroke-width="0.5"/>
<line x1="301.3" x2="302.5" y1="140.73" y2="140.73" stroke="#555" stroke-width="0.5"/>
<line x1="396.3" x2="395.1" y1="140.73" y2="140.73" stroke="#555" stroke-width="0.5"/>
<text x="350.40" y="130.00" class="tt" text-anchor="middle">B8: NIR</text>
<text transform="translate(288.70,176.60) rotate(-90)" class="yl" text-anchor="middle">Reflectance</text>
</g>
<g>
<clipPath id="c31"><rect x="441.6" y="132.3" width="95.0" height="93.0"/></clipPath>
<g clip-path="url(#c31)">
<line x1="444.6" x2="533.6" y1="217.47" y2="217.47" stroke="#f4f0c8" stroke-width="0.5" stroke-opacity="0.7"/>
<line x1="444.6" x2="533.6" y1="219.16" y2="219.16" stroke="#f0ecd0" stroke-width="0.5" stroke-opacity="0.7"/>
<polygon points="447.78,209.88 459.18,204.82 465.83,191.33 472.48,161.82 481.98,167.72 492.43,186.61 501.45,176.15 510.95,198.92 522.83,203.14 533.75,198.92 533.75,215.79 522.83,216.63 510.95,212.41 501.45,186.27 492.43,196.73 481.98,191.33 472.48,197.23 465.83,208.20 459.18,211.57 447.78,216.63" fill="rgb(140,150,40)" fill-opacity="0.5"/>
<polyline points="447.78,213.26 459.18,208.20 465.83,199.76 472.48,179.53 481.98,179.53 492.43,191.67 501.45,181.21 510.95,205.67 522.83,209.88 533.75,207.35" fill="none" stroke="#8c962e" stroke-width="1.0" stroke-linejoin="round"/>
<polygon points="447.78,204.82 459.18,202.29 465.83,201.45 472.48,191.33 484.83,137.36 491.71,134.83 501.45,147.82 509.05,152.54 521.40,155.07 533.75,184.59 533.75,204.82 521.40,183.74 509.05,169.41 501.45,157.94 491.71,144.95 484.83,149.17 472.48,198.08 465.83,208.20 459.18,209.04 447.78,211.57" fill="rgb(185,60,220)" fill-opacity="0.5"/>
<polyline points="447.78,208.20 459.18,205.67 465.83,204.82 472.48,194.70 484.83,143.26 491.71,139.89 501.45,152.88 509.05,160.97 521.40,169.41 533.75,194.70" fill="none" stroke="#ac2ed6" stroke-width="1.2" stroke-linejoin="round"/>
<polygon points="447.78,198.92 459.18,194.70 465.83,198.08 472.48,191.33 484.83,167.72 492.43,161.48 501.45,166.54 508.58,179.53 522.83,193.02 533.75,200.61 533.75,214.10 522.83,206.51 508.58,196.39 501.45,183.40 492.43,178.34 484.83,184.59 472.48,204.82 465.83,211.57 459.18,211.57 447.78,214.10" fill="rgb(255,255,0)" fill-opacity="0.45"/>
<polyline points="447.78,206.51 459.18,203.14 465.83,204.82 472.48,198.08 484.83,176.15 492.43,169.91 501.45,174.97 508.58,187.96 522.83,199.76 533.75,207.35" fill="none" stroke="#f0f000" stroke-width="1.0" stroke-linejoin="round"/>
<polygon points="447.78,207.52 459.18,204.82 465.83,207.52 472.48,197.57 484.83,171.94 492.43,149.67 501.45,167.72 510.95,191.33 518.08,198.75 525.68,200.61 533.75,199.76 533.75,211.57 525.68,210.73 518.08,208.87 510.95,201.45 501.45,177.84 492.43,164.85 484.83,183.74 472.48,207.02 465.83,215.96 459.18,213.26 447.78,217.64" fill="rgb(80,175,90)" fill-opacity="0.4"/>
<polyline points="447.78,212.58 459.18,209.04 465.83,211.74 472.48,202.29 484.83,177.84 492.43,157.26 501.45,172.78 510.95,196.39 518.08,203.81 525.68,205.67 533.75,205.67" fill="none" stroke="#2ea62e" stroke-width="1.2" stroke-linejoin="round"/>
</g>
<path d="M441.6,225.3 V132.3 H536.6" fill="none" stroke="#8a8a8a" stroke-width="1.2"/>
<path d="M441.0,225.3 H536.6 V131.70000000000002" fill="none" stroke="#505050" stroke-width="1.2"/>
<line x1="453.48" x2="453.48" y1="225.3" y2="223.8" stroke="#333" stroke-width="0.7"/>
<line x1="465.35" x2="465.35" y1="225.3" y2="223.8" stroke="#333" stroke-width="0.7"/>
<line x1="477.23" x2="477.23" y1="225.3" y2="223.8" stroke="#333" stroke-width="0.7"/>
<line x1="489.10" x2="489.10" y1="225.3" y2="223.8" stroke="#333" stroke-width="0.7"/>
<line x1="500.98" x2="500.98" y1="225.3" y2="223.8" stroke="#333" stroke-width="0.7"/>
<line x1="512.85" x2="512.85" y1="225.3" y2="223.8" stroke="#333" stroke-width="0.7"/>
<line x1="524.73" x2="524.73" y1="225.3" y2="223.8" stroke="#333" stroke-width="0.7"/>
<text x="441.60" y="231.90" class="tk" text-anchor="middle">100</text>
<text x="465.35" y="231.90" class="tk" text-anchor="middle">150</text>
<text x="489.10" y="231.90" class="tk" text-anchor="middle">200</text>
<text x="512.85" y="231.90" class="tk" text-anchor="middle">250</text>
<text x="536.60" y="231.90" class="tk" text-anchor="middle">300</text>
<text x="489.10" y="237.30" class="dy" text-anchor="middle">DOY</text>
<line x1="441.6" x2="443.1" y1="216.63" y2="216.63" stroke="#333" stroke-width="0.7"/>
<line x1="536.6" x2="535.1" y1="216.63" y2="216.63" stroke="#333" stroke-width="0.7"/>
<text x="440.10" y="218.43" class="tk" text-anchor="end">0.1</text>
<text x="538.60" y="218.43" class="tk">0.1</text>
<line x1="441.6" x2="443.1" y1="199.76" y2="199.76" stroke="#333" stroke-width="0.7"/>
<line x1="536.6" x2="535.1" y1="199.76" y2="199.76" stroke="#333" stroke-width="0.7"/>
<text x="440.10" y="201.56" class="tk" text-anchor="end">0.2</text>
<text x="538.60" y="201.56" class="tk">0.2</text>
<line x1="441.6" x2="443.1" y1="182.90" y2="182.90" stroke="#333" stroke-width="0.7"/>
<line x1="536.6" x2="535.1" y1="182.90" y2="182.90" stroke="#333" stroke-width="0.7"/>
<text x="440.10" y="184.70" class="tk" text-anchor="end">0.3</text>
<text x="538.60" y="184.70" class="tk">0.3</text>
<line x1="441.6" x2="443.1" y1="166.03" y2="166.03" stroke="#333" stroke-width="0.7"/>
<line x1="536.6" x2="535.1" y1="166.03" y2="166.03" stroke="#333" stroke-width="0.7"/>
<text x="440.10" y="167.83" class="tk" text-anchor="end">0.4</text>
<text x="538.60" y="167.83" class="tk">0.4</text>
<line x1="441.6" x2="443.1" y1="149.17" y2="149.17" stroke="#333" stroke-width="0.7"/>
<line x1="536.6" x2="535.1" y1="149.17" y2="149.17" stroke="#333" stroke-width="0.7"/>
<text x="440.10" y="150.97" class="tk" text-anchor="end">0.5</text>
<text x="538.60" y="150.97" class="tk">0.5</text>
<line x1="441.6" x2="443.1" y1="132.30" y2="132.30" stroke="#333" stroke-width="0.7"/>
<line x1="536.6" x2="535.1" y1="132.30" y2="132.30" stroke="#333" stroke-width="0.7"/>
<text x="440.10" y="134.10" class="tk" text-anchor="end">0.6</text>
<text x="538.60" y="134.10" class="tk">0.6</text>
<line x1="441.6" x2="442.8" y1="208.20" y2="208.20" stroke="#555" stroke-width="0.5"/>
<line x1="536.6" x2="535.4" y1="208.20" y2="208.20" stroke="#555" stroke-width="0.5"/>
<line x1="441.6" x2="442.8" y1="191.33" y2="191.33" stroke="#555" stroke-width="0.5"/>
<line x1="536.6" x2="535.4" y1="191.33" y2="191.33" stroke="#555" stroke-width="0.5"/>
<line x1="441.6" x2="442.8" y1="174.47" y2="174.47" stroke="#555" stroke-width="0.5"/>
<line x1="536.6" x2="535.4" y1="174.47" y2="174.47" stroke="#555" stroke-width="0.5"/>
<line x1="441.6" x2="442.8" y1="157.60" y2="157.60" stroke="#555" stroke-width="0.5"/>
<line x1="536.6" x2="535.4" y1="157.60" y2="157.60" stroke="#555" stroke-width="0.5"/>
<line x1="441.6" x2="442.8" y1="140.73" y2="140.73" stroke="#555" stroke-width="0.5"/>
<line x1="536.6" x2="535.4" y1="140.73" y2="140.73" stroke="#555" stroke-width="0.5"/>
<text x="490.70" y="130.00" class="tt" text-anchor="middle">B8A: NIR</text>
<text transform="translate(429.00,176.60) rotate(-90)" class="yl" text-anchor="middle">Reflectance</text>
</g>
<g>
<clipPath id="c02"><rect x="20.6" y="252.4" width="95.0" height="93.0"/></clipPath>
<g clip-path="url(#c02)">
<line x1="23.6" x2="112.6" y1="325.25" y2="325.25" stroke="#f4f0c8" stroke-width="0.5" stroke-opacity="0.7"/>
<line x1="23.6" x2="112.6" y1="337.65" y2="337.65" stroke="#f0ecd0" stroke-width="0.5" stroke-opacity="0.7"/>
<polygon points="26.78,292.70 38.17,286.50 44.35,301.69 51.48,308.51 64.30,308.82 80.45,254.57 85.68,268.83 91.85,277.51 101.82,292.70 112.75,295.80 112.75,314.40 101.82,311.30 91.85,296.11 85.68,287.43 80.45,270.69 64.30,326.18 51.48,325.87 44.35,320.29 38.17,302.00 26.78,311.30" fill="rgb(140,150,40)" fill-opacity="0.5"/>
<polyline points="26.78,302.00 38.17,294.25 44.35,310.99 51.48,317.19 64.30,317.50 80.45,262.63 85.68,278.13 91.85,286.81 101.82,302.00 112.75,305.10" fill="none" stroke="#8c962e" stroke-width="1.0" stroke-linejoin="round"/>
<polygon points="26.78,303.55 38.17,281.85 44.35,288.05 51.48,293.63 64.30,314.40 71.43,315.02 80.45,315.95 87.10,315.02 95.18,320.60 103.72,315.64 112.75,303.55 112.75,322.15 103.72,334.24 95.18,337.96 87.10,326.18 80.45,325.25 71.43,324.32 64.30,323.70 51.48,306.03 44.35,303.55 38.17,297.35 26.78,319.05" fill="rgb(185,60,220)" fill-opacity="0.5"/>
<polyline points="26.78,311.30 38.17,289.60 44.35,295.80 51.48,299.83 64.30,319.05 71.43,319.67 80.45,320.60 87.10,320.60 95.18,329.28 103.72,324.94 112.75,312.85" fill="none" stroke="#ac2ed6" stroke-width="1.2" stroke-linejoin="round"/>
<polygon points="26.78,280.30 38.17,255.50 44.35,267.90 51.48,261.70 64.30,286.50 72.85,298.90 80.45,297.35 87.10,286.50 101.82,269.45 112.75,298.90 112.75,323.70 101.82,297.35 87.10,317.50 80.45,328.35 72.85,329.90 64.30,317.50 51.48,298.90 44.35,298.90 38.17,292.70 26.78,311.30" fill="rgb(255,255,0)" fill-opacity="0.45"/>
<polyline points="26.78,295.80 38.17,274.10 44.35,283.40 51.48,280.30 64.30,302.00 72.85,314.40 80.45,312.85 87.10,302.00 101.82,283.40 112.75,311.30" fill="none" stroke="#f0f000" stroke-width="1.0" stroke-linejoin="round"/>
<polygon points="26.78,291.15 38.17,275.03 44.35,282.78 51.48,278.44 64.30,314.09 77.60,313.47 93.28,314.09 101.82,302.00 112.75,278.75 112.75,309.75 101.82,320.60 93.28,323.39 77.60,322.77 64.30,325.25 51.48,297.04 44.35,301.38 38.17,296.73 26.78,319.05" fill="rgb(80,175,90)" fill-opacity="0.4"/>
<polyline points="26.78,305.10 38.17,285.88 44.35,292.08 51.48,287.74 64.30,319.67 77.60,318.12 93.28,318.74 101.82,311.30 112.75,294.25" fill="none" stroke="#2ea62e" stroke-width="1.2" stroke-linejoin="round"/>
</g>
<path d="M20.6,345.4 V252.4 H115.6" fill="none" stroke="#8a8a8a" stroke-width="1.2"/>
<path d="M20.0,345.4 H115.6 V251.8" fill="none" stroke="#505050" stroke-width="1.2"/>
<line x1="32.48" x2="32.48" y1="345.4" y2="343.9" stroke="#333" stroke-width="0.7"/>
<line x1="44.35" x2="44.35" y1="345.4" y2="343.9" stroke="#333" stroke-width="0.7"/>
<line x1="56.23" x2="56.23" y1="345.4" y2="343.9" stroke="#333" stroke-width="0.7"/>
<line x1="68.10" x2="68.10" y1="345.4" y2="343.9" stroke="#333" stroke-width="0.7"/>
<line x1="79.97" x2="79.97" y1="345.4" y2="343.9" stroke="#333" stroke-width="0.7"/>
<line x1="91.85" x2="91.85" y1="345.4" y2="343.9" stroke="#333" stroke-width="0.7"/>
<line x1="103.72" x2="103.72" y1="345.4" y2="343.9" stroke="#333" stroke-width="0.7"/>
<text x="20.60" y="352.00" class="tk" text-anchor="middle">100</text>
<text x="44.35" y="352.00" class="tk" text-anchor="middle">150</text>
<text x="68.10" y="352.00" class="tk" text-anchor="middle">200</text>
<text x="91.85" y="352.00" class="tk" text-anchor="middle">250</text>
<text x="115.60" y="352.00" class="tk" text-anchor="middle">300</text>
<text x="68.10" y="357.40" class="dy" text-anchor="middle">DOY</text>
<line x1="20.6" x2="22.1" y1="345.40" y2="345.40" stroke="#333" stroke-width="0.7"/>
<line x1="115.6" x2="114.1" y1="345.40" y2="345.40" stroke="#333" stroke-width="0.7"/>
<text x="19.10" y="347.20" class="tk" text-anchor="end">0.1</text>
<text x="117.60" y="347.20" class="tk">0.1</text>
<line x1="20.6" x2="22.1" y1="314.40" y2="314.40" stroke="#333" stroke-width="0.7"/>
<line x1="115.6" x2="114.1" y1="314.40" y2="314.40" stroke="#333" stroke-width="0.7"/>
<text x="19.10" y="316.20" class="tk" text-anchor="end">0.2</text>
<text x="117.60" y="316.20" class="tk">0.2</text>
<line x1="20.6" x2="22.1" y1="283.40" y2="283.40" stroke="#333" stroke-width="0.7"/>
<line x1="115.6" x2="114.1" y1="283.40" y2="283.40" stroke="#333" stroke-width="0.7"/>
<text x="19.10" y="285.20" class="tk" text-anchor="end">0.3</text>
<text x="117.60" y="285.20" class="tk">0.3</text>
<line x1="20.6" x2="22.1" y1="252.40" y2="252.40" stroke="#333" stroke-width="0.7"/>
<line x1="115.6" x2="114.1" y1="252.40" y2="252.40" stroke="#333" stroke-width="0.7"/>
<text x="19.10" y="254.20" class="tk" text-anchor="end">0.4</text>
<text x="117.60" y="254.20" class="tk">0.4</text>
<line x1="20.6" x2="21.8" y1="329.90" y2="329.90" stroke="#555" stroke-width="0.5"/>
<line x1="115.6" x2="114.39999999999999" y1="329.90" y2="329.90" stroke="#555" stroke-width="0.5"/>
<line x1="20.6" x2="21.8" y1="298.90" y2="298.90" stroke="#555" stroke-width="0.5"/>
<line x1="115.6" x2="114.39999999999999" y1="298.90" y2="298.90" stroke="#555" stroke-width="0.5"/>
<line x1="20.6" x2="21.8" y1="267.90" y2="267.90" stroke="#555" stroke-width="0.5"/>
<line x1="115.6" x2="114.39999999999999" y1="267.90" y2="267.90" stroke="#555" stroke-width="0.5"/>
<text x="69.70" y="250.10" class="tt" text-anchor="middle">B11: SWIR</text>
<text transform="translate(8.00,296.70) rotate(-90)" class="yl" text-anchor="middle">Reflectance</text>
</g>
<g>
<clipPath id="c12"><rect x="160.9" y="252.4" width="95.0" height="93.0"/></clipPath>
<g clip-path="url(#c12)">
<line x1="163.9" x2="252.9" y1="321.66" y2="321.66" stroke="#f4f0c8" stroke-width="0.5" stroke-opacity="0.7"/>
<line x1="163.9" x2="252.9" y1="334.38" y2="334.38" stroke="#f0ecd0" stroke-width="0.5" stroke-opacity="0.7"/>
<polygon points="167.08,283.49 178.47,270.77 184.65,290.56 191.30,308.37 202.70,310.63 210.78,300.45 220.28,266.53 227.40,264.56 235.00,274.73 242.12,280.67 253.05,282.08 253.05,310.35 242.12,308.93 235.00,300.17 227.40,287.17 220.28,289.15 210.78,320.24 202.70,333.24 191.30,333.81 184.65,316.00 178.47,290.56 167.08,300.45" fill="rgb(140,150,40)" fill-opacity="0.5"/>
<polyline points="167.08,291.97 178.47,280.67 184.65,303.28 191.30,321.09 202.70,321.94 210.78,310.35 220.28,277.84 227.40,275.86 235.00,287.45 242.12,294.80 253.05,296.21" fill="none" stroke="#8c962e" stroke-width="1.0" stroke-linejoin="round"/>
<polygon points="167.08,293.39 178.47,263.71 184.65,258.05 191.78,265.97 204.60,320.24 211.73,324.48 221.23,318.83 227.40,316.00 235.48,319.96 244.03,312.33 253.05,300.17 253.05,322.79 244.03,334.94 235.48,339.75 227.40,332.96 221.23,332.96 211.73,335.79 204.60,331.55 191.78,294.24 184.65,291.97 178.47,289.15 167.08,307.52" fill="rgb(185,60,220)" fill-opacity="0.5"/>
<polyline points="167.08,300.45 178.47,276.43 184.65,275.01 191.78,280.10 204.60,325.90 211.73,330.14 221.23,325.90 227.40,324.48 235.48,329.85 244.03,323.63 253.05,311.48" fill="none" stroke="#ac2ed6" stroke-width="1.2" stroke-linejoin="round"/>
<polygon points="167.08,272.19 178.47,253.81 184.65,262.29 191.30,259.47 204.60,297.63 211.73,319.39 220.75,303.28 227.88,289.15 235.00,273.32 242.12,267.95 253.05,280.67 253.05,314.59 242.12,301.87 235.00,307.24 227.88,317.42 220.75,320.24 211.73,330.70 204.60,320.24 191.30,284.91 184.65,287.73 178.47,279.25 167.08,300.45" fill="rgb(255,255,0)" fill-opacity="0.45"/>
<polyline points="167.08,286.32 178.47,266.53 184.65,275.01 191.30,272.19 204.60,308.93 211.73,325.05 220.75,311.76 227.88,303.28 235.00,290.28 242.12,284.91 253.05,297.63" fill="none" stroke="#f0f000" stroke-width="1.0" stroke-linejoin="round"/>
<polygon points="167.08,283.92 178.47,261.73 184.65,268.23 191.30,270.77 204.60,325.61 210.78,328.16 221.23,323.92 233.57,312.89 242.12,303.85 253.05,283.49 253.05,311.76 242.12,320.81 233.57,324.20 221.23,332.40 210.78,334.94 204.60,334.09 191.30,287.73 184.65,285.19 178.47,281.52 167.08,306.53" fill="rgb(80,175,90)" fill-opacity="0.4"/>
<polyline points="167.08,295.23 178.47,271.62 184.65,276.71 191.30,279.25 204.60,329.85 210.78,331.55 221.23,328.16 233.57,318.55 242.12,312.33 253.05,297.63" fill="none" stroke="#2ea62e" stroke-width="1.2" stroke-linejoin="round"/>
</g>
<path d="M160.9,345.4 V252.4 H255.9" fill="none" stroke="#8a8a8a" stroke-width="1.2"/>
<path d="M160.3,345.4 H255.9 V251.8" fill="none" stroke="#505050" stroke-width="1.2"/>
<line x1="172.78" x2="172.78" y1="345.4" y2="343.9" stroke="#333" stroke-width="0.7"/>
<line x1="184.65" x2="184.65" y1="345.4" y2="343.9" stroke="#333" stroke-width="0.7"/>
<line x1="196.53" x2="196.53" y1="345.4" y2="343.9" stroke="#333" stroke-width="0.7"/>
<line x1="208.40" x2="208.40" y1="345.4" y2="343.9" stroke="#333" stroke-width="0.7"/>
<line x1="220.28" x2="220.28" y1="345.4" y2="343.9" stroke="#333" stroke-width="0.7"/>
<line x1="232.15" x2="232.15" y1="345.4" y2="343.9" stroke="#333" stroke-width="0.7"/>
<line x1="244.03" x2="244.03" y1="345.4" y2="343.9" stroke="#333" stroke-width="0.7"/>
<text x="160.90" y="352.00" class="tk" text-anchor="middle">100</text>
<text x="184.65" y="352.00" class="tk" text-anchor="middle">150</text>
<text x="208.40" y="352.00" class="tk" text-anchor="middle">200</text>
<text x="232.15" y="352.00" class="tk" text-anchor="middle">250</text>
<text x="255.90" y="352.00" class="tk" text-anchor="middle">300</text>
<text x="208.40" y="357.40" class="dy" text-anchor="middle">DOY</text>
<line x1="160.9" x2="162.4" y1="340.03" y2="340.03" stroke="#333" stroke-width="0.7"/>
<line x1="255.9" x2="254.4" y1="340.03" y2="340.03" stroke="#333" stroke-width="0.7"/>
<text x="159.40" y="341.83" class="tk" text-anchor="end">0.05</text>
<text x="257.90" y="341.83" class="tk">0.05</text>
<line x1="160.9" x2="162.4" y1="325.90" y2="325.90" stroke="#333" stroke-width="0.7"/>
<line x1="255.9" x2="254.4" y1="325.90" y2="325.90" stroke="#333" stroke-width="0.7"/>
<text x="159.40" y="327.70" class="tk" text-anchor="end">0.10</text>
<text x="257.90" y="327.70" class="tk">0.10</text>
<line x1="160.9" x2="162.4" y1="311.76" y2="311.76" stroke="#333" stroke-width="0.7"/>
<line x1="255.9" x2="254.4" y1="311.76" y2="311.76" stroke="#333" stroke-width="0.7"/>
<text x="159.40" y="313.56" class="tk" text-anchor="end">0.15</text>
<text x="257.90" y="313.56" class="tk">0.15</text>
<line x1="160.9" x2="162.4" y1="297.63" y2="297.63" stroke="#333" stroke-width="0.7"/>
<line x1="255.9" x2="254.4" y1="297.63" y2="297.63" stroke="#333" stroke-width="0.7"/>
<text x="159.40" y="299.43" class="tk" text-anchor="end">0.20</text>
<text x="257.90" y="299.43" class="tk">0.20</text>
<line x1="160.9" x2="162.4" y1="283.49" y2="283.49" stroke="#333" stroke-width="0.7"/>
<line x1="255.9" x2="254.4" y1="283.49" y2="283.49" stroke="#333" stroke-width="0.7"/>
<text x="159.40" y="285.29" class="tk" text-anchor="end">0.25</text>
<text x="257.90" y="285.29" class="tk">0.25</text>
<line x1="160.9" x2="162.4" y1="269.36" y2="269.36" stroke="#333" stroke-width="0.7"/>
<line x1="255.9" x2="254.4" y1="269.36" y2="269.36" stroke="#333" stroke-width="0.7"/>
<text x="159.40" y="271.16" class="tk" text-anchor="end">0.30</text>
<text x="257.90" y="271.16" class="tk">0.30</text>
<line x1="160.9" x2="162.4" y1="255.23" y2="255.23" stroke="#333" stroke-width="0.7"/>
<line x1="255.9" x2="254.4" y1="255.23" y2="255.23" stroke="#333" stroke-width="0.7"/>
<text x="159.40" y="257.03" class="tk" text-anchor="end">0.35</text>
<text x="257.90" y="257.03" class="tk">0.35</text>
<line x1="160.9" x2="162.1" y1="332.96" y2="332.96" stroke="#555" stroke-width="0.5"/>
<line x1="255.9" x2="254.70000000000002" y1="332.96" y2="332.96" stroke="#555" stroke-width="0.5"/>
<line x1="160.9" x2="162.1" y1="318.83" y2="318.83" stroke="#555" stroke-width="0.5"/>
<line x1="255.9" x2="254.70000000000002" y1="318.83" y2="318.83" stroke="#555" stroke-width="0.5"/>
<line x1="160.9" x2="162.1" y1="304.69" y2="304.69" stroke="#555" stroke-width="0.5"/>
<line x1="255.9" x2="254.70000000000002" y1="304.69" y2="304.69" stroke="#555" stroke-width="0.5"/>
<line x1="160.9" x2="162.1" y1="290.56" y2="290.56" stroke="#555" stroke-width="0.5"/>
<line x1="255.9" x2="254.70000000000002" y1="290.56" y2="290.56" stroke="#555" stroke-width="0.5"/>
<line x1="160.9" x2="162.1" y1="276.43" y2="276.43" stroke="#555" stroke-width="0.5"/>
<line x1="255.9" x2="254.70000000000002" y1="276.43" y2="276.43" stroke="#555" stroke-width="0.5"/>
<line x1="160.9" x2="162.1" y1="262.29" y2="262.29" stroke="#555" stroke-width="0.5"/>
<line x1="255.9" x2="254.70000000000002" y1="262.29" y2="262.29" stroke="#555" stroke-width="0.5"/>
<text x="210.00" y="250.10" class="tt" text-anchor="middle">B12: SWIR</text>
<text transform="translate(148.30,296.70) rotate(-90)" class="yl" text-anchor="middle">Reflectance</text>
</g>
<g>
<clipPath id="c22"><rect x="301.3" y="252.4" width="95.0" height="93.0"/></clipPath>
<g clip-path="url(#c22)">
<line x1="304.3" x2="393.3" y1="337.21" y2="337.21" stroke="#f4f0c8" stroke-width="0.5" stroke-opacity="0.7"/>
<polygon points="307.95,329.61 319.35,327.36 332.41,257.22 343.10,271.35 351.65,321.90 366.38,337.74 374.93,319.54 382.52,300.27 393.45,285.27 393.45,330.25 382.52,332.39 374.93,336.67 366.38,341.17 351.65,329.61 343.10,297.05 332.41,288.27 319.35,332.71 307.95,333.89" fill="rgb(140,150,40)" fill-opacity="0.5"/>
<polyline points="307.95,331.75 319.35,330.03 332.41,272.75 343.10,284.20 351.65,325.75 366.38,339.46 374.93,328.11 382.52,316.33 393.45,307.76" fill="none" stroke="#8c962e" stroke-width="1.0" stroke-linejoin="round"/>
<polygon points="307.95,329.18 319.35,330.46 332.18,305.62 344.53,267.07 352.12,263.86 361.15,267.07 368.75,270.28 378.73,256.36 393.45,273.49 393.45,316.33 378.73,284.20 368.75,280.99 361.15,275.64 352.12,270.28 344.53,273.49 332.18,312.04 319.35,334.75 307.95,333.46" fill="rgb(185,60,220)" fill-opacity="0.5"/>
<polyline points="307.95,331.32 319.35,332.60 332.18,308.83 344.53,270.28 352.12,267.07 361.15,271.35 368.75,275.64 378.73,270.28 393.45,294.91" fill="none" stroke="#ac2ed6" stroke-width="1.2" stroke-linejoin="round"/>
<polygon points="307.95,334.00 319.35,334.53 332.18,319.54 344.53,275.64 351.65,259.04 361.15,261.72 368.27,276.71 374.45,292.77 382.52,308.83 393.45,321.68 393.45,338.81 382.52,334.53 374.45,318.47 368.27,298.12 361.15,274.57 351.65,268.68 344.53,286.34 332.18,328.11 319.35,338.81 307.95,338.28" fill="rgb(255,255,0)" fill-opacity="0.45"/>
<polyline points="307.95,336.14 319.35,336.67 332.18,323.82 344.53,280.99 351.65,263.86 361.15,268.14 368.27,287.42 374.45,305.62 382.52,321.68 393.45,330.25" fill="none" stroke="#f0f000" stroke-width="1.0" stroke-linejoin="round"/>
<polygon points="307.95,332.18 319.35,333.46 332.18,316.33 344.53,267.82 351.65,261.29 361.15,268.14 364.95,274.78 373.50,292.77 382.52,304.12 393.45,312.04 393.45,331.32 382.52,325.54 373.50,316.33 364.95,291.91 361.15,278.85 351.65,268.78 344.53,274.24 332.18,322.75 319.35,337.74 307.95,336.46" fill="rgb(80,175,90)" fill-opacity="0.4"/>
<polyline points="307.95,334.32 319.35,335.60 332.18,319.54 344.53,271.03 351.65,265.04 361.15,273.49 364.95,283.35 373.50,304.55 382.52,314.83 393.45,321.68" fill="none" stroke="#2ea62e" stroke-width="1.2" stroke-linejoin="round"/>
</g>
<path d="M301.3,345.4 V252.4 H396.3" fill="none" stroke="#8a8a8a" stroke-width="1.2"/>
<path d="M300.7,345.4 H396.3 V251.8" fill="none" stroke="#505050" stroke-width="1.2"/>
<line x1="313.18" x2="313.18" y1="345.4" y2="343.9" stroke="#333" stroke-width="0.7"/>
<line x1="325.05" x2="325.05" y1="345.4" y2="343.9" stroke="#333" stroke-width="0.7"/>
<line x1="336.93" x2="336.93" y1="345.4" y2="343.9" stroke="#333" stroke-width="0.7"/>
<line x1="348.80" x2="348.80" y1="345.4" y2="343.9" stroke="#333" stroke-width="0.7"/>
<line x1="360.68" x2="360.68" y1="345.4" y2="343.9" stroke="#333" stroke-width="0.7"/>
<line x1="372.55" x2="372.55" y1="345.4" y2="343.9" stroke="#333" stroke-width="0.7"/>
<line x1="384.43" x2="384.43" y1="345.4" y2="343.9" stroke="#333" stroke-width="0.7"/>
<text x="301.30" y="352.00" class="tk" text-anchor="middle">100</text>
<text x="325.05" y="352.00" class="tk" text-anchor="middle">150</text>
<text x="348.80" y="352.00" class="tk" text-anchor="middle">200</text>
<text x="372.55" y="352.00" class="tk" text-anchor="middle">250</text>
<text x="396.30" y="352.00" class="tk" text-anchor="middle">300</text>
<text x="348.80" y="357.40" class="dy" text-anchor="middle">DOY</text>
<line x1="301.3" x2="302.8" y1="343.10" y2="343.10" stroke="#333" stroke-width="0.7"/>
<line x1="396.3" x2="394.8" y1="343.10" y2="343.10" stroke="#333" stroke-width="0.7"/>
<text x="299.80" y="344.90" class="tk" text-anchor="end">0.1</text>
<text x="398.30" y="344.90" class="tk">0.1</text>
<line x1="301.3" x2="302.8" y1="332.39" y2="332.39" stroke="#333" stroke-width="0.7"/>
<line x1="396.3" x2="394.8" y1="332.39" y2="332.39" stroke="#333" stroke-width="0.7"/>
<text x="299.80" y="334.19" class="tk" text-anchor="end">0.2</text>
<text x="398.30" y="334.19" class="tk">0.2</text>
<line x1="301.3" x2="302.8" y1="321.68" y2="321.68" stroke="#333" stroke-width="0.7"/>
<line x1="396.3" x2="394.8" y1="321.68" y2="321.68" stroke="#333" stroke-width="0.7"/>
<text x="299.80" y="323.48" class="tk" text-anchor="end">0.3</text>
<text x="398.30" y="323.48" class="tk">0.3</text>
<line x1="301.3" x2="302.8" y1="310.97" y2="310.97" stroke="#333" stroke-width="0.7"/>
<line x1="396.3" x2="394.8" y1="310.97" y2="310.97" stroke="#333" stroke-width="0.7"/>
<text x="299.80" y="312.77" class="tk" text-anchor="end">0.4</text>
<text x="398.30" y="312.77" class="tk">0.4</text>
<line x1="301.3" x2="302.8" y1="300.27" y2="300.27" stroke="#333" stroke-width="0.7"/>
<line x1="396.3" x2="394.8" y1="300.27" y2="300.27" stroke="#333" stroke-width="0.7"/>
<text x="299.80" y="302.07" class="tk" text-anchor="end">0.5</text>
<text x="398.30" y="302.07" class="tk">0.5</text>
<line x1="301.3" x2="302.8" y1="289.56" y2="289.56" stroke="#333" stroke-width="0.7"/>
<line x1="396.3" x2="394.8" y1="289.56" y2="289.56" stroke="#333" stroke-width="0.7"/>
<text x="299.80" y="291.36" class="tk" text-anchor="end">0.6</text>
<text x="398.30" y="291.36" class="tk">0.6</text>
<line x1="301.3" x2="302.8" y1="278.85" y2="278.85" stroke="#333" stroke-width="0.7"/>
<line x1="396.3" x2="394.8" y1="278.85" y2="278.85" stroke="#333" stroke-width="0.7"/>
<text x="299.80" y="280.65" class="tk" text-anchor="end">0.7</text>
<text x="398.30" y="280.65" class="tk">0.7</text>
<line x1="301.3" x2="302.8" y1="268.14" y2="268.14" stroke="#333" stroke-width="0.7"/>
<line x1="396.3" x2="394.8" y1="268.14" y2="268.14" stroke="#333" stroke-width="0.7"/>
<text x="299.80" y="269.94" class="tk" text-anchor="end">0.8</text>
<text x="398.30" y="269.94" class="tk">0.8</text>
<line x1="301.3" x2="302.8" y1="257.43" y2="257.43" stroke="#333" stroke-width="0.7"/>
<line x1="396.3" x2="394.8" y1="257.43" y2="257.43" stroke="#333" stroke-width="0.7"/>
<text x="299.80" y="259.23" class="tk" text-anchor="end">0.9</text>
<text x="398.30" y="259.23" class="tk">0.9</text>
<line x1="301.3" x2="302.5" y1="337.74" y2="337.74" stroke="#555" stroke-width="0.5"/>
<line x1="396.3" x2="395.1" y1="337.74" y2="337.74" stroke="#555" stroke-width="0.5"/>
<line x1="301.3" x2="302.5" y1="327.04" y2="327.04" stroke="#555" stroke-width="0.5"/>
<line x1="396.3" x2="395.1" y1="327.04" y2="327.04" stroke="#555" stroke-width="0.5"/>
<line x1="301.3" x2="302.5" y1="316.33" y2="316.33" stroke="#555" stroke-width="0.5"/>
<line x1="396.3" x2="395.1" y1="316.33" y2="316.33" stroke="#555" stroke-width="0.5"/>
<line x1="301.3" x2="302.5" y1="305.62" y2="305.62" stroke="#555" stroke-width="0.5"/>
<line x1="396.3" x2="395.1" y1="305.62" y2="305.62" stroke="#555" stroke-width="0.5"/>
<line x1="301.3" x2="302.5" y1="294.91" y2="294.91" stroke="#555" stroke-width="0.5"/>
<line x1="396.3" x2="395.1" y1="294.91" y2="294.91" stroke="#555" stroke-width="0.5"/>
<line x1="301.3" x2="302.5" y1="284.20" y2="284.20" stroke="#555" stroke-width="0.5"/>
<line x1="396.3" x2="395.1" y1="284.20" y2="284.20" stroke="#555" stroke-width="0.5"/>
<line x1="301.3" x2="302.5" y1="273.49" y2="273.49" stroke="#555" stroke-width="0.5"/>
<line x1="396.3" x2="395.1" y1="273.49" y2="273.49" stroke="#555" stroke-width="0.5"/>
<line x1="301.3" x2="302.5" y1="262.79" y2="262.79" stroke="#555" stroke-width="0.5"/>
<line x1="396.3" x2="395.1" y1="262.79" y2="262.79" stroke="#555" stroke-width="0.5"/>
<text x="350.40" y="250.10" class="tt" text-anchor="middle">NDVI</text>
<text transform="translate(288.70,296.70) rotate(-90)" class="yl" text-anchor="middle">Index Value</text>
</g>
<rect x="430.3" y="256.7" width="110.2" height="72.6" fill="#fff" stroke="#bdbdbd" stroke-width="1"/>
<line x1="432" x2="463.5" y1="267.40" y2="267.40" stroke="#a39f4c" stroke-width="1.3"/>
<text x="467.3" y="272.00" class="lg">Springwheat</text>
<line x1="432" x2="463.5" y1="284.70" y2="284.70" stroke="#b028d0" stroke-width="1.6"/>
<text x="467.3" y="289.30" class="lg">Sugarbeets</text>
<line x1="432" x2="463.5" y1="302.00" y2="302.00" stroke="#f5f520" stroke-width="1.3"/>
<text x="467.3" y="306.60" class="lg">Corn</text>
<line x1="432" x2="463.5" y1="319.30" y2="319.30" stroke="#4aa04a" stroke-width="1.3"/>
<text x="467.3" y="323.90" class="lg">Soybeans</text>
</svg>
</body></html>
